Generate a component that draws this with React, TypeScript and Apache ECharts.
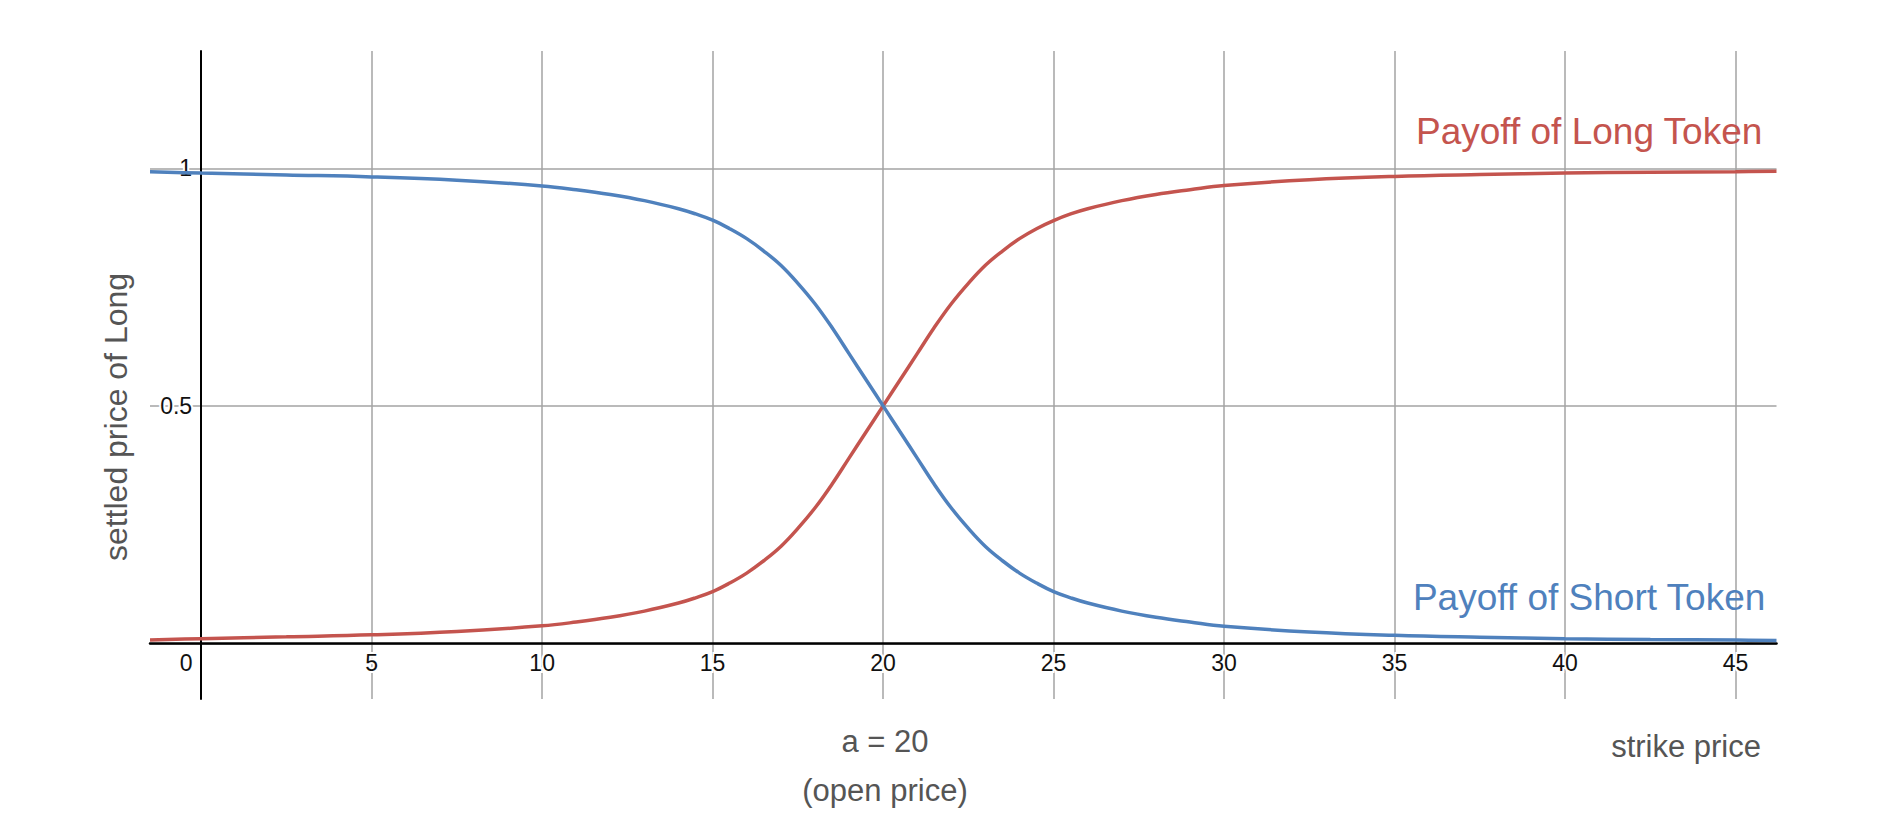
import React, { useEffect, useRef } from 'react';
import * as echarts from 'echarts';

// strike price (x) and settled prices
const strikes = [-1.5, 0, 2.5, 5, 7.5, 10, 11, 12, 13, 14, 14.5, 15, 15.5, 16, 16.5, 17, 17.5, 18, 18.5, 19, 19.5, 20, 20.5, 21, 21.5, 22, 22.5, 23, 23.5, 24, 24.5, 25, 25.5, 26, 27, 28, 29, 30, 32.5, 35, 37.5, 40, 42.5, 45, 46.2];
const longPayoff = [0.007, 0.010, 0.014, 0.018, 0.025, 0.037, 0.045, 0.055, 0.068, 0.085, 0.096, 0.109, 0.127, 0.148, 0.174, 0.204, 0.242, 0.285, 0.335, 0.390, 0.445, 0.500, 0.555, 0.610, 0.665, 0.715, 0.758, 0.796, 0.826, 0.852, 0.873, 0.890, 0.904, 0.915, 0.932, 0.945, 0.955, 0.964, 0.976, 0.983, 0.987, 0.990, 0.992, 0.993, 0.994];
const shortPayoff = [0.993, 0.990, 0.986, 0.982, 0.975, 0.963, 0.955, 0.945, 0.932, 0.915, 0.904, 0.891, 0.873, 0.852, 0.826, 0.796, 0.758, 0.715, 0.665, 0.610, 0.555, 0.500, 0.445, 0.390, 0.335, 0.285, 0.242, 0.204, 0.174, 0.148, 0.127, 0.109, 0.096, 0.085, 0.068, 0.055, 0.045, 0.036, 0.024, 0.017, 0.013, 0.010, 0.008, 0.007, 0.006];

const X_MIN = -1.5;
const X_MAX = 46.2;
const Y_MIN = -0.117;
const Y_MAX = 1.247;

const FONT = '"Liberation Sans", Arial, Helvetica, sans-serif';
const RED = '#c4544e';
const BLUE = '#4f81bd';
const GRID = '#a3a3a3';

export default function App() {
    const chartRef = useRef<HTMLDivElement>(null);

    useEffect(() => {
        if (!chartRef.current) return;
        const chart = echarts.init(chartRef.current, null, { renderer: 'svg' });

        const grid = { left: 150, right: 103.5, top: 51, bottom: 133 };
        const plotW = 1880 - grid.left - grid.right;
        const plotH = 832 - grid.top - grid.bottom;
        // put both axes (line + labels) on zero
        const yAxisShift = ((0 - X_MIN) / (X_MAX - X_MIN)) * plotW;
        const xAxisShift = ((0 - Y_MIN) / (Y_MAX - Y_MIN)) * plotH;

        const option = {
            animation: false,
            grid,
            xAxis: {
                type: 'value',
                min: X_MIN,
                max: X_MAX,
                minInterval: 5,
                maxInterval: 5,
                offset: -xAxisShift,
                axisLine: { onZero: false, lineStyle: { color: '#000', width: 2.5 } },
                axisTick: { show: false },
                axisLabel: {
                    showMinLabel: false,
                    showMaxLabel: false,
                    margin: 8,
                    color: '#111',
                    fontSize: 23,
                    fontFamily: FONT,
                    textBorderColor: '#fff',
                    textBorderWidth: 4,
                    formatter: (v: number) => (v === 0 ? '{z|0}' : String(v)),
                    rich: { z: { fontSize: 23, fontFamily: FONT, color: '#111', padding: [0, 30, 0, 0] } },
                },
                splitLine: { show: true, showMinLine: false, showMaxLine: false, lineStyle: { color: GRID, width: 1.5 } },
            },
            yAxis: {
                type: 'value',
                min: Y_MIN,
                max: Y_MAX,
                minInterval: 0.5,
                maxInterval: 0.5,
                offset: -yAxisShift,
                axisLine: { show: true, onZero: false, lineStyle: { color: '#000', width: 2 } },
                axisTick: { show: false },
                axisLabel: {
                    showMinLabel: false,
                    showMaxLabel: false,
                    margin: 9,
                    color: '#111',
                    fontSize: 23,
                    fontFamily: FONT,
                    textBorderColor: '#fff',
                    textBorderWidth: 4,
                    formatter: (v: number) => (v === 0 ? '' : String(v)),
                },
                splitLine: { show: true, showMinLine: false, showMaxLine: false, lineStyle: { color: GRID, width: 1.5 } },
            },
            series: [
                {
                    name: 'Payoff of Long Token',
                    type: 'line',
                    data: strikes.map((x, i) => [x, longPayoff[i]]),
                    smooth: 0.4,
                    showSymbol: false,
                    lineStyle: { color: RED, width: 3.5 },
                    z: 3,
                },
                {
                    name: 'Payoff of Short Token',
                    type: 'line',
                    data: strikes.map((x, i) => [x, shortPayoff[i]]),
                    smooth: 0.4,
                    showSymbol: false,
                    lineStyle: { color: BLUE, width: 3.5 },
                    z: 4,
                },
            ],
            graphic: [
                {
                    type: 'text', right: 117, top: 113, z: 10,
                    style: { text: 'Payoff of Long Token', fill: RED, font: `37px ${FONT}` },
                },
                {
                    type: 'text', right: 114, top: 579, z: 10,
                    style: { text: 'Payoff of Short Token', fill: BLUE, font: `37px ${FONT}` },
                },
                {
                    type: 'text', right: 119, top: 731, z: 10,
                    style: { text: 'strike price', fill: '#555', font: `31px ${FONT}` },
                },
                {
                    type: 'text', x: 885, y: 741, z: 10,
                    style: { text: 'a = 20', fill: '#555', font: `31px ${FONT}`, align: 'center', verticalAlign: 'middle' },
                },
                {
                    type: 'text', x: 885, y: 790, z: 10,
                    style: { text: '(open price)', fill: '#555', font: `31px ${FONT}`, align: 'center', verticalAlign: 'middle' },
                },
                {
                    type: 'text', x: 116, y: 417, rotation: Math.PI / 2, z: 10,
                    style: { text: 'settled price of Long', fill: '#555', font: `32px ${FONT}`, align: 'center', verticalAlign: 'middle' },
                },
            ],
        };

        chart.setOption(option);
        return () => chart.dispose();
    }, []);

    return (
        <div
            ref={chartRef}
            style={{ position: 'fixed', left: 0, top: 0, width: '1880px', height: '832px', background: '#fff' }}
        />
    );
}
